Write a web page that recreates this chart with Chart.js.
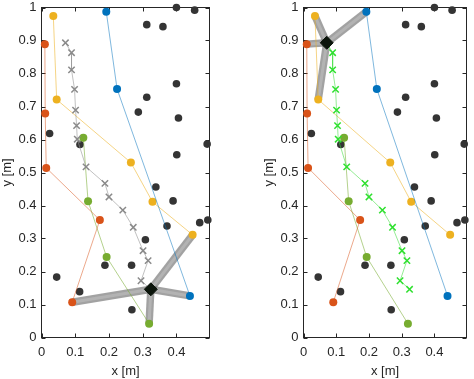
<!DOCTYPE html>
<html><head><meta charset="utf-8">
<script src="https://cdn.jsdelivr.net/npm/chart.js@4/dist/chart.umd.min.js"></script>
<style>
html,body{margin:0;padding:0;background:#fff;width:474px;height:379px;overflow:hidden}
.p{position:absolute;top:0;width:237px;height:379px}
</style></head><body>
<div class="p" style="left:0"><canvas id="c1" width="237" height="379"></canvas></div>
<div class="p" style="left:237px"><canvas id="c2" width="237" height="379"></canvas></div>
<script>
// ---- data ----
const xTicks = [0, 0.1, 0.2, 0.3, 0.4];
const yTicks = [0, 0.1, 0.2, 0.3, 0.4, 0.5, 0.6, 0.7, 0.8, 0.9, 1];
const xLabel = 'x [m]';
const yLabel = 'y [m]';

const landmarkX = [0.400, 0.454, 0.312, 0.360, 0.400, 0.312, 0.287, 0.406, 0.024, 0.114, 0.491, 0.401, 0.339, 0.390, 0.469, 0.493, 0.372, 0.308, 0.188, 0.267, 0.045, 0.113, 0.268];
const landmarkY = [1.000, 0.992, 0.948, 0.942, 0.769, 0.728, 0.683, 0.665, 0.618, 0.585, 0.586, 0.554, 0.456, 0.414, 0.348, 0.356, 0.338, 0.296, 0.219, 0.219, 0.183, 0.139, 0.084];

const blueX = [0.192, 0.224, 0.440];
const blueY = [0.987, 0.753, 0.126];
const orangeX = [0.035, 0.045, 0.265, 0.329, 0.448];
const orangeY = [0.974, 0.721, 0.530, 0.411, 0.311];
const redX = [0.010, 0.011, 0.014, 0.173, 0.091];
const redY = [0.889, 0.679, 0.514, 0.356, 0.107];
const greenX = [0.124, 0.138, 0.193, 0.319];
const greenY = [0.605, 0.413, 0.244, 0.042];

const pathX = [0.071, 0.089, 0.089, 0.098, 0.101, 0.104, 0.106, 0.132, 0.188, 0.200, 0.241, 0.272, 0.301, 0.316, 0.295, 0.324];
const pathY = [0.893, 0.863, 0.811, 0.752, 0.689, 0.642, 0.601, 0.517, 0.467, 0.426, 0.386, 0.334, 0.263, 0.233, 0.172, 0.146];

// spokes: [series, point index]
const leftSpokes = [['blue', 2], ['orange', 4], ['red', 4], ['green', 3]];
const rightSpokes = [['orange', 0], ['blue', 0], ['red', 0], ['orange', 1]];

// ---- build ----
const series = {
  blue: {x: blueX, y: blueY, c: '#0072BD', l: 'rgba(0,114,189,0.5)'},
  orange: {x: orangeX, y: orangeY, c: '#EDB120', l: 'rgba(237,177,32,0.55)'},
  red: {x: redX, y: redY, c: '#D95319', l: 'rgba(217,83,25,0.5)'},
  green: {x: greenX, y: greenY, c: '#77AC30', l: 'rgba(119,172,48,0.55)'}
};
const pts = (xs, ys) => xs.map((v, i) => ({x: v, y: ys[i]}));
const FONT = {family: "'Liberation Sans', Arial, Helvetica, sans-serif", size: 13};
const TXT = '#262626';

function buildDatasets(hubIdx, spokes, pathMarker, pathLine) {
  const ds = [];
  const hub = {x: pathX[hubIdx], y: pathY[hubIdx]};
  ds.push({data: [hub], pointStyle: 'rectRot', pointRadius: 6.5, backgroundColor: '#0b140b', borderColor: '#0b140b', borderWidth: 1, showLine: false, order: 0, clip: false});
  ds.push({data: pts(pathX, pathY), showLine: true, borderColor: pathLine, borderWidth: 1, pointStyle: 'crossRot', pointRadius: 4.5, pointBorderColor: pathMarker, pointBorderWidth: 1.5, pointBackgroundColor: pathMarker, order: 1, clip: false});
  let o = 2;
  for (const k of ['blue', 'orange', 'red', 'green']) {
    const s = series[k];
    ds.push({data: pts(s.x, s.y), showLine: true, borderColor: s.l, borderWidth: 1, pointRadius: 4, pointBackgroundColor: s.c, pointBorderColor: s.c, pointBorderWidth: 0, order: o++, clip: false});
  }
  for (const [k, i] of spokes) {
    const s = series[k];
    const seg = [hub, {x: s.x[i], y: s.y[i]}];
    ds.push({data: seg, showLine: true, borderColor: 'rgba(185,185,185,0.75)', borderWidth: 3, pointRadius: 0, order: 7, clip: false, borderCapStyle: 'butt'});
    ds.push({data: seg, showLine: true, borderColor: 'rgba(70,70,70,0.5)', borderWidth: 7.5, pointRadius: 0, order: 8, clip: false, borderCapStyle: 'butt'});
  }
  ds.push({data: pts(landmarkX, landmarkY), showLine: false, pointRadius: 3.8, backgroundColor: '#343434', borderColor: '#343434', borderWidth: 0, order: 9, clip: false});
  return ds;
}

const framePlugin = {
  id: 'frame',
  beforeDatasetsDraw(chart) {
    const {ctx, chartArea: a, scales} = chart;
    ctx.save();
    ctx.strokeStyle = TXT;
    ctx.lineWidth = 1;
    ctx.strokeRect(a.left, a.top, a.right - a.left, a.bottom - a.top);
    const L = 4;
    ctx.beginPath();
    for (const v of xTicks) {
      const px = Math.round(scales.x.getPixelForValue(v)) + 0.5;
      ctx.moveTo(px, a.bottom); ctx.lineTo(px, a.bottom - L);
      ctx.moveTo(px, a.top); ctx.lineTo(px, a.top + L);
    }
    for (const v of yTicks) {
      const py = Math.round(scales.y.getPixelForValue(v)) + 0.5;
      ctx.moveTo(a.left, py); ctx.lineTo(a.left + L, py);
      ctx.moveTo(a.right, py); ctx.lineTo(a.right - L, py);
    }
    ctx.stroke();
    ctx.restore();
  }
};

function makeChart(id, padLeft, padRight, datasets) {
  return new Chart(document.getElementById(id), {
    type: 'scatter',
    data: {datasets},
    options: {
      responsive: false, animation: false, devicePixelRatio: 1,
      layout: {padding: {left: padLeft, right: padRight, top: 4.5, bottom: 0}},
      plugins: {legend: {display: false}, tooltip: {enabled: false}},
      scales: {
        x: {
          type: 'linear', min: 0, max: 0.498,
          grid: {display: false, drawTicks: false}, border: {display: false},
          afterBuildTicks: s => { s.ticks = xTicks.map(v => ({value: v})); },
          afterFit: s => { s.height = 41.5; s.paddingLeft = 0; s.paddingRight = 0; },
          ticks: {font: FONT, color: TXT, padding: 7, maxRotation: 0, autoSkip: false, callback: v => String(+(+v).toFixed(1))},
          title: {display: true, text: xLabel, font: FONT, color: TXT, padding: {top: 0, bottom: 0}}
        },
        y: {
          type: 'linear', min: 0, max: 1,
          grid: {display: false, drawTicks: false}, border: {display: false},
          afterBuildTicks: s => { s.ticks = yTicks.map(v => ({value: v})); },
          afterFit: s => { s.width = 41.5; s.paddingTop = 0; s.paddingBottom = 0; },
          ticks: {font: FONT, color: TXT, padding: 5, autoSkip: false, callback: v => String(+(+v).toFixed(1))},
          title: {display: true, text: yLabel, font: FONT, color: TXT, padding: {top: 0, bottom: 0}}
        }
      }
    },
    plugins: [framePlugin]
  });
}

makeChart('c1', 0, 27.5, buildDatasets(pathX.length - 1, leftSpokes, '#8a8a8a', 'rgba(150,150,150,0.6)'));
makeChart('c2', 25, 2.5, buildDatasets(0, rightSpokes, '#2fe02f', 'rgba(60,220,60,0.55)'));
</script>
</body></html>
